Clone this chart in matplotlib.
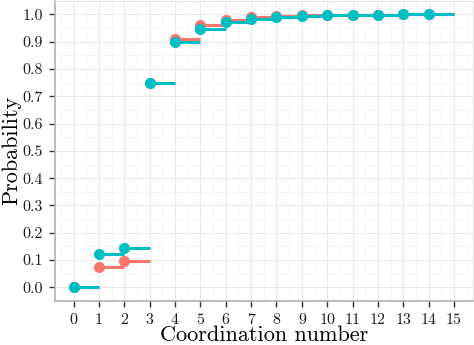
import matplotlib
matplotlib.use("Agg")
import matplotlib.pyplot as plt
import numpy as np

plt.rcParams['font.family'] = ['cmr10', 'DejaVu Serif']
plt.rcParams['axes.formatter.use_mathtext'] = True

coord = [0, 1, 2, 3, 4, 5, 6, 7, 8, 9, 10, 11, 12, 13, 14]
prob_red = [0.0, 0.075, 0.097, 0.75, 0.911, 0.960, 0.980, 0.990, 0.994, 0.997, 0.998, 0.999, 0.999, 1.0, 1.0]
prob_teal = [0.0, 0.124, 0.143, 0.749, 0.899, 0.948, 0.972, 0.984, 0.990, 0.995, 0.997, 0.998, 0.999, 1.0, 1.0]
x_ticks = list(range(0, 16))
y_ticks = [0.0, 0.1, 0.2, 0.3, 0.4, 0.5, 0.6, 0.7, 0.8, 0.9, 1.0]

RED = '#F8766D'
TEAL = '#00BFC4'

fig = plt.figure(figsize=(4.74, 3.45), dpi=100)
ax = fig.add_axes([0.115, 0.1275, 0.883, 0.8705])

for ys, c in [(prob_red, RED), (prob_teal, TEAL)]:
    xs = np.array(coord)
    ax.hlines(ys, xs, xs + 1, colors=c, linewidth=2.2, zorder=3)
    ax.plot(xs, ys, 'o', color=c, markersize=8, markeredgewidth=0, zorder=4)

ax.set_xlim(-0.75, 15.75)
ax.set_ylim(-0.05, 1.05)
ax.set_xticks(x_ticks)
ax.set_xticklabels([str(t) for t in x_ticks])
ax.set_yticks(y_ticks)
ax.set_yticklabels(['%.1f' % t for t in y_ticks])
ax.set_xticks(np.arange(-0.5, 15.6, 1.0), minor=True)
ax.set_yticks(np.arange(0.05, 1.0, 0.1), minor=True)

ax.grid(True, which='major', color='#E8E8E8', linewidth=0.8, zorder=0)
ax.grid(True, which='minor', color='#F4F4F4', linewidth=0.6, zorder=0)
ax.set_axisbelow(True)

for s in ['top', 'right']:
    ax.spines[s].set_color('#E6E6E6')
    ax.spines[s].set_linewidth(0.8)
for s in ['left', 'bottom']:
    ax.spines[s].set_color('#B0B0B0')
    ax.spines[s].set_linewidth(1.2)

ax.tick_params(which='major', length=4.5, width=1.0, color='#333333', labelsize=11.5, pad=4, labelcolor='#1A1A1A')
ax.tick_params(which='minor', length=0)

xl = ax.set_xlabel('Coordination number', fontsize=16)
yl = ax.set_ylabel('Probability', fontsize=16)
xl.set_va('baseline')
yl.set_va('baseline')
ax.xaxis.set_label_coords(0.5, -0.134)
ax.yaxis.set_label_coords(-0.090, 0.5)

fig.savefig('out.png', dpi=100)
